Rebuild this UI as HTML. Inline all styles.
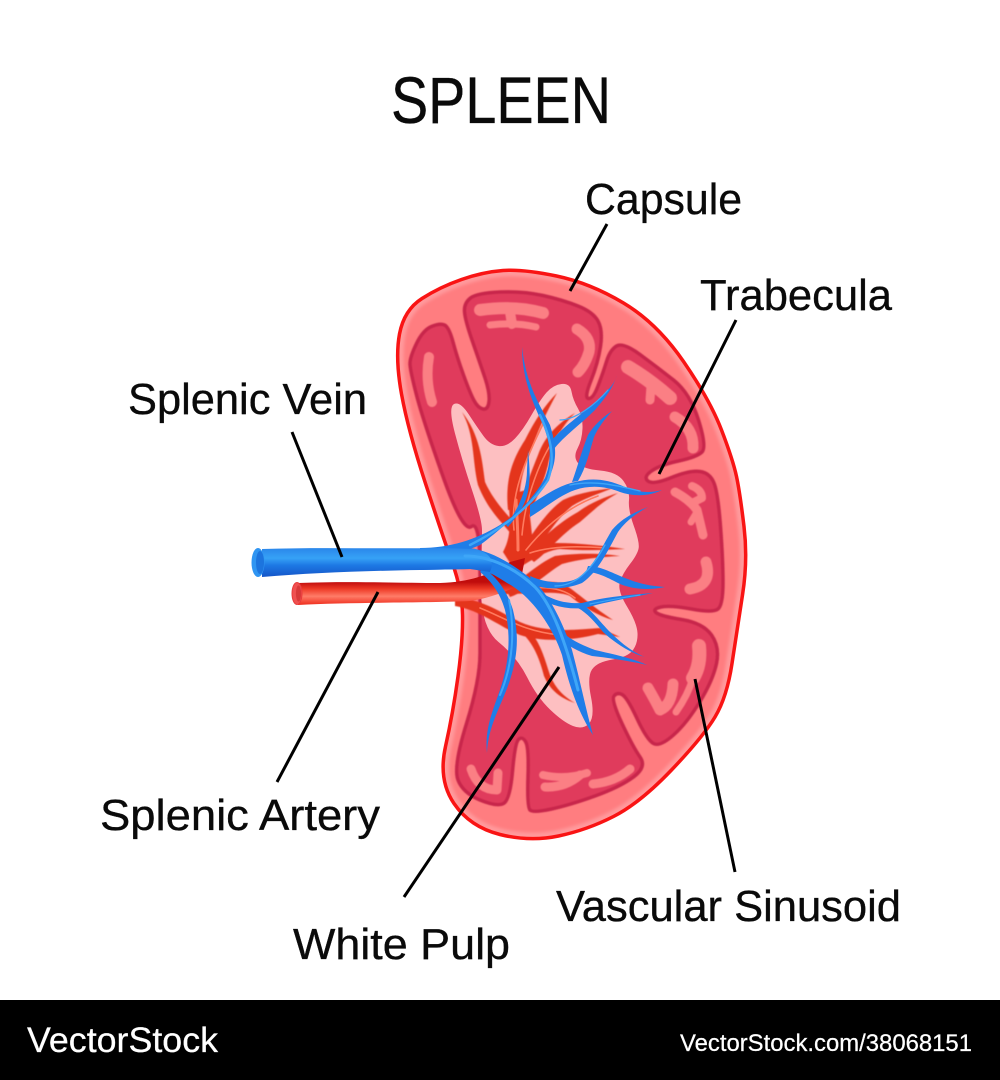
<!DOCTYPE html>
<html><head><meta charset="utf-8"><title>Spleen</title>
<style>html,body{margin:0;padding:0;background:#fff}svg{display:block}text{font-family:"Liberation Sans",sans-serif;fill:#0a0a0a;stroke:#0a0a0a;stroke-width:.35px}.w{fill:#fff;stroke:#fff;stroke-width:.25px}</style>
</head><body>
<svg width="1000" height="1080" viewBox="0 0 1000 1080" xmlns="http://www.w3.org/2000/svg">
<defs>
<linearGradient id="vein" gradientUnits="userSpaceOnUse" x1="0" y1="548" x2="0" y2="577"><stop offset="0" stop-color="#2a86ea"/><stop offset=".35" stop-color="#36a2f6"/><stop offset=".6" stop-color="#1d78e4"/><stop offset="1" stop-color="#1555c8"/></linearGradient>
<linearGradient id="art" gradientUnits="userSpaceOnUse" x1="0" y1="582" x2="0" y2="605"><stop offset="0" stop-color="#c00c0c"/><stop offset=".3" stop-color="#ee3a26"/><stop offset=".62" stop-color="#ff7c68"/><stop offset="1" stop-color="#ee2c1c"/></linearGradient>
<filter id="s" x="-5%" y="-5%" width="110%" height="110%"><feGaussianBlur stdDeviation=".6"/></filter>
<filter id="b" x="-5%" y="-5%" width="110%" height="110%"><feGaussianBlur stdDeviation="1.5"/></filter>
<path id="o" d="M556.5,276 Q590,283 623.5,303 Q657,323 683.5,361.5 Q710,400 721.5,430 Q733,460 736.5,476.5 Q740,493 744,526.5 Q748,560 742.5,595 Q737,630 732,663.5 Q727,697 715,717 Q703,737 671.5,770 Q640,803 613.5,816.5 Q587,830 558.5,836 Q530,842 500,834.5 Q470,827 454,803.5 Q438,780 445.5,746.5 Q453,713 458,676.5 Q463,640 462.5,615 Q462,590 452.5,563.5 Q443,537 425.5,483.5 Q408,430 401.5,394 Q395,358 399.5,334 Q404,310 422,298.5 Q440,287 461.5,279.5 Q483,272 503,270.5 Q523,269 556.5,276 Z"/>
<clipPath id="oc"><use href="#o"/></clipPath>
</defs>
<rect width="1000" height="1080" fill="#fff"/>

<!-- spleen body -->
<use href="#o" fill="#ff7d80"/>
<g clip-path="url(#oc)"><use href="#o" fill="none" stroke="#ff9a9c" stroke-width="12" filter="url(#b)"/></g>
<use href="#o" fill="none" stroke="#f91414" stroke-width="3.5"/>

<g filter="url(#s)">
<path fill="#e03a5c" stroke="#c8284c" stroke-width="3.5" stroke-linejoin="round" d="M416.5,343.5 Q423,330 431.5,326.5 Q440,323 444.5,325 Q449,327 453,342 Q457,357 463.5,375 Q470,393 474,400.5 Q478,408 483,409 Q488,410 489,401.5 Q490,393 485,378 Q480,363 472.5,341.5 Q465,320 464.5,311.5 Q464,303 470.5,298 Q477,293 500,292 Q523,291 543,295.5 Q563,300 578,306 Q593,312 598,321 Q603,330 600.5,346.5 Q598,363 591,380.5 Q584,398 588.5,398.5 Q593,399 598,386 Q603,373 606.5,361.5 Q610,350 616.5,346 Q623,342 640,354.5 Q657,367 673.5,380 Q690,393 698.5,420 Q707,447 702,452 Q697,457 678.5,461 Q660,465 651.5,471 Q643,477 648,481 Q653,485 671.5,477.5 Q690,470 700,471.5 Q710,473 714,483 Q718,493 720.5,526.5 Q723,560 723,582.5 Q723,605 718,609 Q713,613 691.5,609 Q670,605 661,607 Q652,609 656,612.5 Q660,616 681.5,619.5 Q703,623 711.5,635 Q720,647 716.5,663.5 Q713,680 700,701.5 Q687,723 673.5,735 Q660,747 653.5,743.5 Q647,740 637,718.5 Q627,697 622,694.5 Q617,692 614,696 Q611,700 622,723.5 Q633,747 640,757 Q647,767 633.5,777 Q620,787 595,796 Q570,805 551.5,809 Q533,813 530,810 Q527,807 528,777 Q529,747 525.5,741.5 Q522,736 518.5,739.5 Q515,743 512.5,771.5 Q510,800 503.5,803.5 Q497,807 480,800 Q463,793 458,780 Q453,767 466.5,723.5 Q480,680 480,653.5 Q480,627 480,573.5 Q480,520 471.5,526.5 Q463,533 443,476.5 Q423,420 416.5,395 Q410,370 410,363.5 Q410,357 416.5,343.5 Z"/>
</g>

<!-- salmon islands -->
<g fill="none" stroke="#fb7f84" stroke-linecap="round" stroke-linejoin="round" filter="url(#s)">
<path stroke-width="10" d="M429,357 Q425,380 432,402"/>
<path stroke-width="12" d="M480,310 Q515,305 543,313"/>
<path stroke-width="7" d="M490,325 Q515,322 536,327"/>
<path stroke-width="10" d="M510,312 L512,324"/>
<path stroke-width="11" d="M577,329 Q592,338 589,352 Q585,365 578,372"/>
<path stroke-width="14" d="M628,367 Q650,380 670,398"/>
<path stroke-width="9" d="M651,386 L650,400"/>
<path stroke-width="11" d="M675,417 Q694,428 693,448"/>
<path stroke-width="9" d="M675,492 Q690,500 697,510 Q700,522 703,535"/>
<path stroke-width="8" d="M692,486 Q702,490 702,498 L694,502"/>
<path stroke-width="7" d="M697,512 L691,522"/>
<path stroke-width="11" d="M706,562 Q713,585 690,589"/>
<path stroke-width="14" d="M699,646 Q701,665 693,678"/>
<path stroke-width="7" d="M693,678 Q688,695 676,712"/>
<path stroke-width="11" d="M648,688 Q655,700 660,710 Q672,705 673,684"/>
<path stroke-width="9" d="M471,769 Q478,790 497,790 L498,773"/>
<path stroke-width="8" d="M543,775 Q565,780 587,773"/>
<path stroke-width="9" d="M545,787 Q565,788 580,775"/>
<path stroke-width="9" d="M593,784 Q615,782 630,769"/>
</g>

<!-- white pulp -->
<path fill="#fdbfc1" d="M454,404 Q460,401 468.5,414 Q477,427 483.5,436 Q490,445 498.5,446 Q507,447 515,438.5 Q523,430 531.5,415 Q540,400 546.5,392.5 Q553,385 561.5,384 Q570,383 571.5,391.5 Q573,400 578,408.5 Q583,417 582.5,428.5 Q582,440 577.5,448.5 Q573,457 578,463 Q583,469 600,470.5 Q617,472 623.5,481 Q630,490 629,500 Q628,510 634,526.5 Q640,543 638.5,549 Q637,555 630,564 Q623,573 620,581.5 Q617,590 627,606.5 Q637,623 637.5,633 Q638,643 633,650 Q628,657 612.5,659.5 Q597,662 592,669.5 Q587,677 591,697 Q595,717 589,723.5 Q583,730 573,726 Q563,722 550,709.5 Q537,697 527,677 Q517,657 498.5,642 Q480,627 481,583.5 Q482,540 482,530 Q482,520 472,490 Q462,460 455,433.5 Q448,407 454,404 Z"/>

<!-- arteries -->
<g fill="#e4361f" filter="url(#s)">
<path d="M508,510 C505,480 512,460 525,440 C535,420 545,405 557,393 C548,410 540,425 533,445 C522,470 518,490 520,510 Z"/>
<path d="M520,510 C524,490 530,475 538,455 C545,435 560,422 575,413 C560,428 552,445 548,465 C543,485 535,500 530,515 Z"/>
<path d="M512,535 C500,520 488,510 478,485 C472,460 475,435 462,412 C480,435 482,460 485,482 C494,502 508,515 516,525 Z"/>
<path d="M508,495 C510,520 512,535 503,552 L512,566 C522,560 530,550 532,535 C530,515 528,500 526,490 Z"/>
<path d="M520,552 C535,530 548,510 563,500 C580,492 600,490 613,488 C598,494 585,498 572,506 C555,520 545,540 528,560 Z"/>
<path d="M526,555 C540,540 558,523 578,512 C590,503 605,497 618,493 C600,503 592,512 580,522 C560,535 548,552 534,562 Z"/>
<path d="M514,560 C530,552 540,544 556,543 C580,543 605,546 625,549 C605,550 585,551 560,549 C548,550 535,558 522,566 Z"/>
<path d="M505,588 C520,582 535,565 555,556 C575,553 600,553 620,556 C600,557 580,559 562,564 C548,572 530,590 510,597 Z"/>
<path d="M500,584 C525,583 545,580 562,583 C572,588 590,605 613,620 C598,616 582,606 570,596 C558,590 530,594 503,594 Z"/>
<path d="M455,598 C480,598 500,612 520,622 C545,633 575,630 600,628 L620,637 L598,634 C575,640 545,643 520,635 C500,627 480,610 455,606 Z"/>
<path d="M528,630 C540,640 545,660 550,675 C556,690 565,697 575,703 C560,698 550,690 544,676 C540,660 534,645 524,635 Z"/>
</g>
<g fill="none" stroke="#ff7a5e" stroke-width="1.6" stroke-linecap="round">
<path d="M514,530 C510,495 525,460 545,420"/>
<path d="M522,535 C525,500 540,455 560,432"/>
<path d="M518,550 C518,530 517,515 516,500" stroke-width="3"/>
<path d="M526,550 C546,525 570,506 598,496"/>
<path d="M530,553 C550,546 580,546 605,548"/>
<path d="M480,608 C505,618 525,632 560,635"/>
<path d="M520,590 C540,586 560,586 575,598"/>
</g>
<path fill="url(#art)" d="M298,583 C350,581 400,583 440,583 C470,582 490,575 510,562 L525,558 L520,585 C505,592 490,598 470,601 C430,603 350,602 298,605 Z"/>
<ellipse cx="297" cy="593.5" rx="5" ry="11" fill="#ef5050" stroke="#e83a3a" stroke-width="1"/>
<ellipse cx="298.5" cy="593.5" rx="2.6" ry="8" fill="#d83838"/>

<!-- veins -->
<g fill="#1f7de8">
<path d="M552,440 C565,425 585,412 600,398 C608,390 614,385 617,375 C612,390 605,398 595,410 C580,425 565,435 553,450 Z"/>
<path d="M530,505 C545,495 560,485 575,482 C590,478 605,478 625,487 C640,493 650,493 662,490 C650,496 635,497 620,492 C605,486 590,485 575,490 C560,495 545,508 530,517 Z"/>
<path d="M572,482 C578,465 582,450 588,435 C594,425 602,418 612,411 C604,420 598,428 594,437 C590,450 586,468 578,481 Z"/>
<path d="M506,525 C518,510 527,490 527,470 L528,450 C530,470 532,490 522,508 C516,518 512,522 508,527 Z"/>
<path d="M530,576 C545,583 565,585 578,578 C592,570 600,550 612,530 C622,518 635,512 648,507 C635,514 625,522 618,532 C607,552 598,572 582,583 C565,590 545,590 532,584 Z"/>
<path d="M588,566 C600,566 610,572 625,578 C640,584 650,586 665,587 C650,590 635,590 620,584 C608,578 598,572 586,572 Z"/>
<path d="M535,588 C550,600 565,604 582,603 C600,598 625,595 653,593 C630,598 605,602 585,608 C565,610 548,605 532,594 Z"/>
<path d="M580,603 C590,608 600,622 610,632 C620,642 632,652 645,657 C630,653 615,643 603,632 C595,622 587,613 578,608 Z"/>
<path d="M560,630 C570,640 582,645 595,650 C612,654 632,658 647,665 C630,661 610,658 592,656 C578,652 568,645 560,640 Z"/>
<path d="M483,568 C495,575 507,590 513,610 C519,635 518,655 510,680 C502,705 488,725 487,753 C484,725 496,705 503,680 C510,655 510,630 505,610 C500,592 490,580 480,572 Z"/>
<path d="M420,548 C450,548 475,540 500,525 C522,510 540,498 549,478 C558,458 556,445 550,425 C540,405 526,385 522,347 C522,380 534,405 543,425 C551,445 552,460 545,478 C530,505 500,530 480,545 C465,552 440,556 420,558 Z"/>
<path d="M440,548 L470,548 C490,551 510,562 530,578 C548,592 562,620 572,650 C580,680 586,710 593,735 C580,715 570,690 562,655 C552,625 530,595 507,583 C495,575 485,569 470,569 L420,570 Z"/>
</g>
<path fill="url(#vein)" d="M262,549 C320,547 380,549 440,548 L475,549 C490,553 495,560 490,572 L470,569 L420,570 C360,571 310,573 262,577 Z"/>
<g fill="none" stroke="#3ea6f8" stroke-width="2" stroke-linecap="round">
<path d="M465,556 C490,556 515,568 535,587 C552,605 565,640 578,690" stroke-width="3"/>
<path d="M470,545 C500,530 530,508 548,480 C555,460 552,440 540,415" stroke-width="2.4"/>
<path d="M509,600 C515,630 513,665 500,695"/>
<path d="M570,485 C595,480 615,485 640,491" stroke-width="1.4"/>
<path d="M555,586 C575,586 590,572 605,545" stroke-width="1.4"/>
<path d="M590,604 C610,600 625,597 640,595" stroke-width="1.2"/>
<path d="M560,420 C575,420 595,405 608,390" stroke-width="1.2"/>
</g>
<ellipse cx="258" cy="562.5" rx="6.5" ry="14.5" fill="#2f95f2"/>
<ellipse cx="260" cy="562.5" rx="4" ry="11.5" fill="#1c74de"/>

<!-- leader lines -->
<g stroke="#000" stroke-width="3" fill="none">
<line x1="607" y1="224" x2="570" y2="291"/>
<line x1="736" y1="320" x2="659" y2="474"/>
<line x1="292" y1="432" x2="342" y2="557"/>
<line x1="378" y1="592" x2="277" y2="782"/>
<line x1="559" y1="667" x2="404" y2="897"/>
<line x1="695" y1="679" x2="735" y2="872"/>
</g>

<!-- labels -->
<text x="391" y="123" font-size="66" textLength="220" lengthAdjust="spacingAndGlyphs">SPLEEN</text>
<text x="585" y="214" font-size="44" textLength="157" lengthAdjust="spacingAndGlyphs">Capsule</text>
<text x="700" y="310" font-size="44" textLength="192" lengthAdjust="spacingAndGlyphs">Trabecula</text>
<text x="128" y="414" font-size="44" textLength="239" lengthAdjust="spacingAndGlyphs">Splenic Vein</text>
<text x="100" y="830" font-size="44" textLength="280" lengthAdjust="spacingAndGlyphs">Splenic Artery</text>
<text x="556" y="921" font-size="44" textLength="345" lengthAdjust="spacingAndGlyphs">Vascular Sinusoid</text>
<text x="293" y="959" font-size="44" textLength="217" lengthAdjust="spacingAndGlyphs">White Pulp</text>

<!-- footer -->
<rect x="0" y="1000" width="1000" height="80" fill="#000"/>
<text class="w" x="27" y="1052" font-size="35" textLength="191" lengthAdjust="spacingAndGlyphs">VectorStock</text>
<text class="w" x="680" y="1051" font-size="24" textLength="292" lengthAdjust="spacingAndGlyphs">VectorStock.com/38068151</text>
</svg>
</body></html>
